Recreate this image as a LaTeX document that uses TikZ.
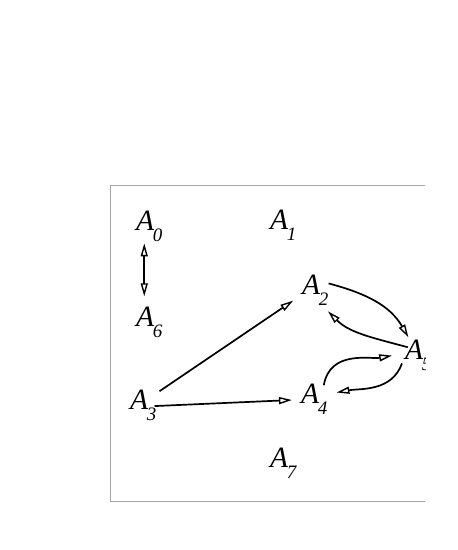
\documentclass[tikz,border=0pt]{standalone}
\usepackage{fontspec}
\setmainfont{Liberation Serif}
\usetikzlibrary{arrows.meta}
\newcommand{\alab}[1]{\textit{A}\kern-1.5pt\raisebox{-11pt}{\fontsize{19}{19}\selectfont\textit{#1}}}
\begin{document}
\begin{tikzpicture}[x=1pt,y=1pt,
    >={Triangle[open,length=13pt,width=7pt,line width=1.4pt]},
    lbl/.style={anchor=base west,inner sep=3pt,font=\fontsize{29.5}{32}\selectfont},
    arr/.style={line width=1.7pt,->},
    frame/.style={draw=black!35,line width=1pt}]
      \useasboundingbox (0,0) rectangle (458,550);
      \clip (0,0) rectangle (425,550);

      \draw[frame] (440,364) -- (110,364) -- (110,48) -- (440,48);

      \foreach \n/\x/\y in {
            0/133/319, 1/267/320,
            2/299/255,
            6/133/223,
            5/402/190,
            3/127/140, 4/298/146,
            7/267/82
        } {
        \node[lbl] (a\n) at (\x,\y) {\alab{\n}};
      }

      \draw[arr,<->,shorten >=8pt,shorten <=-2pt]
            ([xshift=-5pt]a0.south) -- ([xshift=-5pt]a6.north);
      \draw[arr,shorten >=7pt] (a3.42) -- (a2.200);
      \draw[arr,shorten >=6pt,shorten <=-5pt] (a3.east) -- (a4.west);
      \draw[arr,shorten <=-3pt] (a2.22) to[out=-15,in=120] (a5.118);
      \draw[arr,shorten <=-6pt,shorten >=3pt] (a5.148) to[out=165,in=-45] (a2.-60);
      \draw[arr,shorten <=-4pt,shorten >=10pt] (a4.61) to[out=80,in=190] (a5.173);
      \draw[arr,shorten >=6pt] (a5.205) to[out=-110,in=10] (a4.21);
    \end{tikzpicture}
\end{document}
